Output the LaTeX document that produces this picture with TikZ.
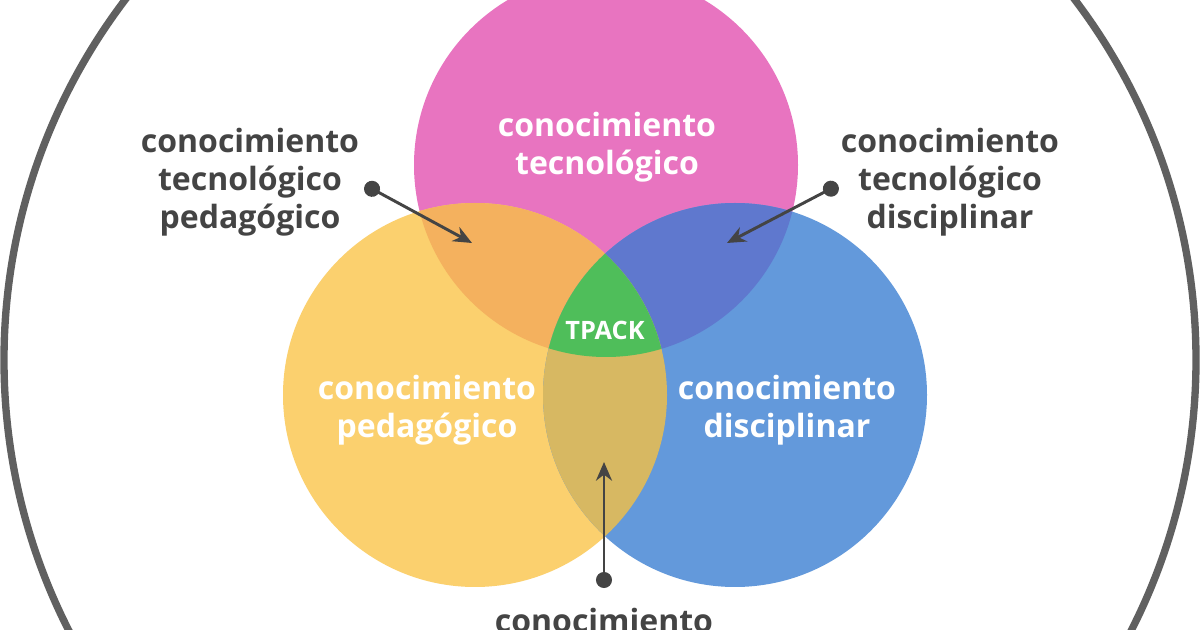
\documentclass[tikz,border=0pt]{standalone}
\usepackage{fontspec}
\setmainfont{Open Sans}
\usetikzlibrary{arrows.meta}
\definecolor{pinkc}{HTML}{E874C0}
\definecolor{yelc}{HTML}{FBD06E}
\definecolor{bluec}{HTML}{6399DB}
\definecolor{pyc}{HTML}{F4B15E}
\definecolor{pbc}{HTML}{5F78CE}
\definecolor{ybc}{HTML}{D7B862}
\definecolor{grc}{HTML}{4FBE5A}
\definecolor{txt}{HTML}{444444}
\definecolor{ring}{HTML}{606060}
\tikzset{
  inner/.style={text=white,font=\bfseries\fontsize{24}{28.5}\selectfont,align=center},
  outer/.style={text=txt,font=\bfseries\fontsize{24}{28.5}\selectfont,align=center},
  pointer/.style={draw=txt,line width=2.2pt,{Circle[length=12pt]}-{Stealth[length=14pt,width=12pt]}}
}
\begin{document}
\begin{tikzpicture}[x=0.75pt,y=-0.75pt]
\useasboundingbox (0,0) rectangle (1200,630);
\clip (0,0) rectangle (1200,630);
\fill[white] (0,0) rectangle (1200,630);
\draw[ring,line width=5.5pt] (600,360) circle (596);
\def\P{(606,165) circle (192)}
\def\Y{(475,395) circle (192)}
\def\B{(735,395) circle (192)}
\fill[pinkc] \P; \fill[yelc] \Y; \fill[bluec] \B;
\begin{scope}\clip \P; \fill[pyc] \Y; \fill[pbc] \B; \end{scope}
\begin{scope}\clip \Y; \fill[ybc] \B; \end{scope}
\begin{scope}\clip \P; \clip \Y; \fill[grc] \B; \end{scope}
\node[inner] (tk) at (607,147) {conocimiento\\tecnológico};
\node[inner] (pk) at (427,410) {conocimiento\\pedagógico};
\node[inner] (ck) at (787,410) {conocimiento\\disciplinar};
\node[inner,font=\bfseries\fontsize{19}{22}\selectfont] (tp) at (605,330) {TPACK};
\node[outer] (tpk) at (250,182) {conocimiento\\tecnológico\\pedagógico};
\node[outer] (tck) at (950,182) {conocimiento\\tecnológico\\disciplinar};
\node[outer,anchor=north] (pck) at (604,603) {conocimiento\\pedagógico\\disciplinar};
\coordinate (d1) at (365,185); \coordinate (e1) at (472,243);
\coordinate (d2) at (838,185); \coordinate (e2) at (727,243);
\coordinate (d3) at (604,588); \coordinate (e3) at (604,462);
\draw[pointer] (d1) -- (e1);
\draw[pointer] (d2) -- (e2);
\draw[pointer] (d3) -- (e3);
\end{tikzpicture}
\end{document}
